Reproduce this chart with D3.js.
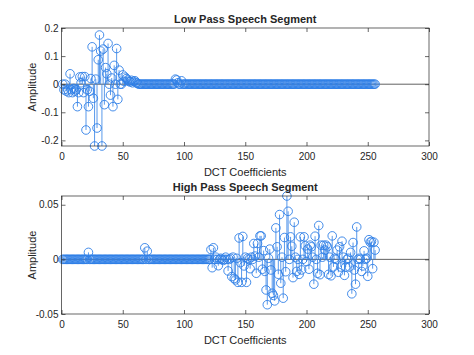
<!DOCTYPE html>
<html><head><meta charset="utf-8">
<script src="https://cdn.jsdelivr.net/npm/d3@7"></script>
<style>body{margin:0;background:#fff}svg{display:block}text{font-family:"Liberation Sans",Arial,Helvetica,sans-serif;fill:#262626}</style>
</head><body>
<script>
// ---------- data ----------
const xTicks = [0, 50, 100, 150, 200, 250, 300];
const lowTicks = [-0.2, -0.1, 0, 0.1, 0.2];
const highTicks = [-0.05, 0, 0.05];
const titles = ["Low Pass Speech Segment", "High Pass Speech Segment"];
const xLabel = "DCT Coefficients";
const yLabel = "Amplitude";

const lowPass = [
  0, -0.02, 0, -0.025, -0.02, -0.03, 0.037, -0.02, -0.03, -0.015,
  -0.025, -0.02, -0.08, -0.03, 0.026, 0.005, 0.027, -0.03, 0.027, -0.163,
  -0.02, -0.08, -0.025, 0.02, 0.133, -0.05, -0.22, 0.018, -0.156, 0.087,
  0.175, 0.118, -0.22, 0.125, -0.073, 0.059, 0.037, 0.145, 0, -0.039,
  0.022, -0.08, 0.067, 0, 0.127, -0.054, 0.05, 0, 0, 0.033,
  0.01, 0.025, 0.02, 0.015, 0.01, 0.008, 0.014, 0.005, 0.01, 0.012,
  0.005, 0.003, 0, 0, 0, 0, 0, 0, 0, 0,
  0, 0, 0, 0, 0, 0, 0, 0, 0, 0,
  0, 0, 0, 0, 0, 0, 0, 0, 0, 0,
  0, 0, 0.018, 0.015, 0.005, 0, 0, 0.012, 0, 0,
  0, 0, 0, 0, 0, 0, 0, 0, 0, 0,
  0, 0, 0, 0, 0, 0, 0, 0, 0, 0,
  0, 0, 0, 0, 0, 0, 0, 0, 0, 0,
  0, 0, 0, 0, 0, 0, 0, 0, 0, 0,
  0, 0, 0, 0, 0, 0, 0, 0, 0, 0,
  0, 0, 0, 0, 0, 0, 0, 0, 0, 0,
  0, 0, 0, 0, 0, 0, 0, 0, 0, 0,
  0, 0, 0, 0, 0, 0, 0, 0, 0, 0,
  0, 0, 0, 0, 0, 0, 0, 0, 0, 0,
  0, 0, 0, 0, 0, 0, 0, 0, 0, 0,
  0, 0, 0, 0, 0, 0, 0, 0, 0, 0,
  0, 0, 0, 0, 0, 0, 0, 0, 0, 0,
  0, 0, 0, 0, 0, 0, 0, 0, 0, 0,
  0, 0, 0, 0, 0, 0, 0, 0, 0, 0,
  0, 0, 0, 0, 0, 0, 0, 0, 0, 0,
  0, 0, 0, 0, 0, 0
];

const highPass = [
  0, 0, 0, 0, 0, 0, 0, 0, 0, 0,
  0, 0, 0, 0, 0, 0, 0, 0, 0, 0,
  0, 0.0064, 0, 0, 0, 0, 0, 0, 0, 0,
  0, 0, 0, 0, 0, 0, 0, 0, 0, 0,
  0, 0, 0, 0, 0, 0, 0, 0, 0, 0,
  0, 0, 0, 0, 0, 0, 0, 0, 0, 0,
  0, 0, 0, 0, 0, 0, 0, 0.0106, 0, 0.0075,
  0, 0, 0, 0, 0, 0, 0, 0, 0, 0,
  0, 0, 0, 0, 0, 0, 0, 0, 0, 0,
  0, 0, 0, 0, 0, 0, 0, 0, 0, 0,
  0, 0, 0, 0, 0, 0, 0, 0, 0, 0,
  0, 0, 0, 0, 0, 0, 0, 0, 0, 0,
  0, 0.009, -0.0076, 0.0106, 0, 0.002, 0, -0.0058, 0, 0.001,
  0, -0.001, 0, 0.002, 0, -0.0106, 0, 0.001, -0.0158, 0.002,
  -0.0175, -0.0188, 0.001, -0.021, 0.0196, -0.003, -0.021, 0.021, -0.006, 0.002,
  -0.021, 0.001, 0, -0.0085, 0.002, 0, 0.0145, 0.003, -0.0127, 0.0145,
  0.002, 0.0215, 0.0215, -0.009, 0.008, -0.011, -0.028, -0.0415, 0.001, 0.0094,
  -0.0097, -0.031, -0.033, -0.038, 0.0288, 0.0115, -0.0136, 0.041, -0.0218, 0.002,
  -0.0355, 0.020, -0.0113, 0.058, 0.044, 0, 0.0206, 0.012, -0.0167, 0.034,
  0.002, -0.011, 0, -0.0137, 0.0206, -0.0097, 0, 0.0206, 0.0124, -0.002,
  0.0094, -0.009, 0.013, 0.0115, 0.002, -0.0227, 0.0212, 0, -0.0127, 0.031,
  -0.014, 0.013, 0.002, 0.013, 0.0085, 0.013, 0.0115, -0.0137, 0.002, -0.015,
  0.0215, -0.0069, 0.001, 0, 0.0085, -0.0118, 0.0115, -0.007, 0.0166, 0.002,
  -0.0146, -0.007, 0, 0.001, -0.007, 0.0064, -0.0315, 0.0154, -0.0097, -0.0227,
  0.0297, 0, 0.001, 0, -0.011, -0.006, 0.0078, 0, 0.001, -0.0155,
  0.018, 0.0157, 0.0164, -0.0085, 0.0157, 0.0085
];

// ---------- drawing ----------
const W = 474, H = 355;
const blue = "#2f7fe6";
const axisCol = "#262626";
const svg = d3.select("body").append("svg").attr("width", W).attr("height", H);

const panels = [
  {values: lowPass, ticks: lowTicks, domain: [-0.22, 0.2], top: 28, bottom: 146, title: titles[0]},
  {values: highPass, ticks: highTicks, domain: [-0.05, 0.058], top: 196, bottom: 314, title: titles[1]}
];
const left = 61.5, right = 429;
const x = d3.scaleLinear().domain([0, 300]).range([left, right]);
const tickLen = 4;

panels.forEach(p => {
  const y = d3.scaleLinear().domain(p.domain).range([p.bottom, p.top]);
  const g = svg.append("g");
  const pts = p.values.map((v, i) => ({i: i + 1, v}));

  // baseline
  g.append("line").attr("x1", x(0)).attr("x2", x(300)).attr("y1", y(0)).attr("y2", y(0))
    .attr("stroke", "#3a3a3a").attr("stroke-width", 0.8);

  // stems
  g.selectAll(".stem").data(pts).enter().append("line")
    .attr("x1", d => x(d.i)).attr("x2", d => x(d.i))
    .attr("y1", y(0)).attr("y2", d => y(d.v))
    .attr("stroke", blue).attr("stroke-width", 0.8);

  // markers
  g.selectAll(".mk").data(pts).enter().append("circle")
    .attr("cx", d => x(d.i)).attr("cy", d => y(d.v)).attr("r", 4.3)
    .attr("fill", "none").attr("stroke", blue).attr("stroke-width", 0.9);

  // axes box with inward ticks
  g.append("rect").attr("x", left).attr("y", p.top).attr("width", right - left).attr("height", p.bottom - p.top)
    .attr("fill", "none").attr("stroke", axisCol).attr("stroke-width", 0.7);

  const xb = d3.axisBottom(x).tickValues(xTicks).tickSize(-tickLen).tickPadding(7).tickFormat(d3.format("d"));
  const xt = d3.axisTop(x).tickValues(xTicks).tickSize(-tickLen).tickFormat("");
  const yl = d3.axisLeft(y).tickValues(p.ticks).tickSize(-tickLen).tickPadding(3).tickFormat(d => d === 0 ? "0" : String(d));
  const yr = d3.axisRight(y).tickValues(p.ticks).tickSize(-tickLen).tickFormat("");

  [[xb, `translate(0,${p.bottom})`], [xt, `translate(0,${p.top})`], [yl, `translate(${left},0)`], [yr, `translate(${right},0)`]]
    .forEach(([ax, tr]) => {
      const a = g.append("g").attr("transform", tr).call(ax);
      a.select(".domain").remove();
      a.selectAll("line").attr("stroke", axisCol).attr("stroke-width", 0.7);
      a.selectAll("text").attr("font-size", "10px").attr("fill", axisCol)
        .style("font-family", '"Liberation Sans", Arial, sans-serif');
    });

  // title
  g.append("text").attr("x", (left + right) / 2).attr("y", p.top - 5).attr("text-anchor", "middle")
    .attr("font-size", "11px").attr("font-weight", "bold").attr("fill", "#000").text(p.title);
  // x label
  g.append("text").attr("x", (left + right) / 2).attr("y", p.bottom + 30).attr("text-anchor", "middle")
    .attr("font-size", "11px").text(xLabel);
  // y label
  g.append("text").attr("transform", `translate(36,${(p.top + p.bottom) / 2}) rotate(-90)`)
    .attr("text-anchor", "middle").attr("font-size", "11px").text(yLabel);
});
</script>
</body></html>
